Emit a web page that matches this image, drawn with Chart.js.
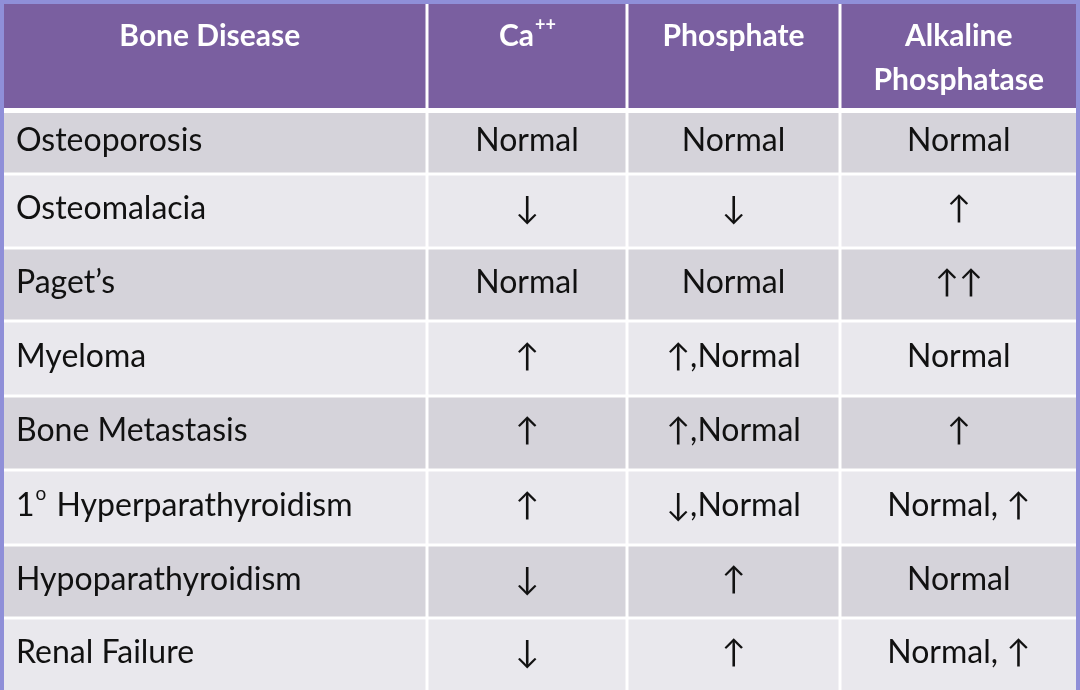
<!DOCTYPE html>
<html><head><meta charset="utf-8">
<script src="https://cdn.jsdelivr.net/npm/chart.js@4/dist/chart.umd.min.js"></script>
<style>html,body{margin:0;padding:0;background:#fff}#w{width:1080px;height:690px}</style>
</head><body><div id="w"><canvas id="c"></canvas></div>
<script>
const headers = [["Bone Disease"], ["Ca^++"], ["Phosphate"], ["Alkaline","Phosphatase"]];
const diseases = ["Osteoporosis","Osteomalacia","Paget’s","Myeloma","Bone Metastasis","1^o Hyperparathyroidism","Hypoparathyroidism","Renal Failure"];
const calcium = ["Normal","↓","Normal","↑","↑","↑","↓","↓"];
const phosphate = ["Normal","↓","Normal","↑,Normal","↑,Normal","↓,Normal","↑","↑"];
const alkPhos = ["Normal","↑","↑↑","Normal","↑","Normal, ↑","Normal","Normal, ↑"];

// layout (pixel units on linear scales)
const colEdges = [4,427,627,840,1076];
const rowEdges = [4,110,174,248,321,396,470,545,618,692];
const FONT = "Lato, 'Open Sans', sans-serif";

function drawRich(ctx, str, x, y, size, weight, align){
  const parts = str.split('^');
  ctx.font = weight+" "+size+"px "+FONT;
  const w0 = ctx.measureText(parts[0]).width;
  let w1=0;
  if(parts[1]!==undefined){ctx.font=weight+" "+Math.round(size*0.6)+"px "+FONT; w1=ctx.measureText(parts[1]).width;}
  let rest = "";
  let tot=w0+w1;
  let sx = align==='center'? x-tot/2 : x;
  ctx.textAlign='left'; ctx.textBaseline='middle';
  ctx.font = weight+" "+size+"px "+FONT; ctx.fillText(parts[0], sx, y);
  if(parts[1]!==undefined){
    // superscript then possibly remaining text after a space
    const m = parts[1].match(/^(\S+)(.*)$/);
    ctx.font=weight+" "+Math.round(size*0.6)+"px "+FONT;
    ctx.fillText(m[1], sx+w0+1, y-size*0.35);
    const ws = ctx.measureText(m[1]).width;
    ctx.font = weight+" "+size+"px "+FONT; ctx.fillText(m[2], sx+w0+ws+3, y);
  }
}

const tablePlugin = {
  id:'table',
  beforeDatasetsDraw(chart){
    const ctx=chart.ctx, xs=chart.scales.x, ys=chart.scales.y;
    const X=v=>xs.getPixelForValue(v), Y=v=>ys.getPixelForValue(v);
    ctx.save();
    ctx.fillStyle='#8f8fd8'; ctx.fillRect(X(0),Y(0),X(1080)-X(0),Y(692)-Y(0));
    ctx.fillStyle='#ffffff'; ctx.fillRect(X(4),Y(4),X(1076)-X(4),Y(692)-Y(4));
    const cols=[diseases,calcium,phosphate,alkPhos];
    for(let r=0;r<rowEdges.length-1;r++){
      for(let c=0;c<4;c++){
        const x0=X(colEdges[c])+(c?1.5:0), x1=X(colEdges[c+1])-(c<3?1.5:0);
        const y0=Y(rowEdges[r])+(r?(r==1?3:1.5):0), y1=Y(rowEdges[r+1])-(r==0?2:1.5);
        ctx.fillStyle = r==0?'#7a5fa0':(r%2==1?'#d5d3da':'#e9e8ed');
        ctx.fillRect(x0,y0,x1-x0,y1-y0);
        const cy=(y0+y1)/2;
        if(r==0){
          ctx.fillStyle='#ffffff';
          const lines=headers[c];
          const cx = c==0? (x0+x1)/2-5 : (x0+x1)/2;
          if(lines.length==1) drawRich(ctx,lines[0],cx,Y(36),30,'bold','center');
          else {drawRich(ctx,lines[0],cx,Y(36),30,'bold','center');drawRich(ctx,lines[1],cx,Y(80),30,'bold','center');}
        } else {
          ctx.fillStyle='#111111';
          const t=cols[c][r-1];
          if(c==0) drawRich(ctx,t,x0+12,cy-2,32,'normal','left');
          else drawRich(ctx,t,(x0+x1)/2,cy-2,32,'normal','center');
        }
      }
    }
    ctx.restore();
  }
};

new Chart(document.getElementById('c'),{
  type:'scatter',
  data:{datasets:[{data:[],pointRadius:0}]},
  options:{responsive:true,maintainAspectRatio:false,animation:false,
    layout:{padding:0},
    plugins:{legend:{display:false},tooltip:{enabled:false}},
    scales:{x:{type:'linear',min:0,max:1080,display:false},y:{type:'linear',min:0,max:690,reverse:true,display:false}}},
  plugins:[tablePlugin]
});
</script></body></html>
